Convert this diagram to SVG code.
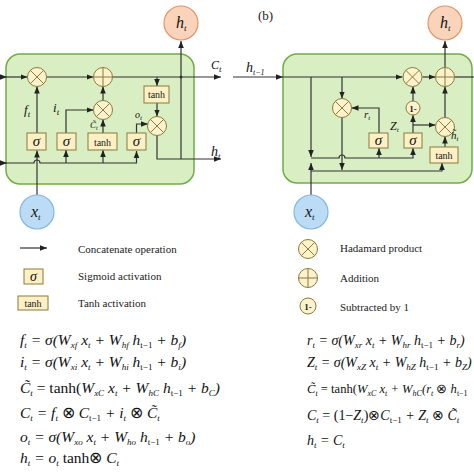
<svg xmlns="http://www.w3.org/2000/svg" xmlns:xlink="http://www.w3.org/1999/xlink" width="474" height="474" viewBox="0 0 474 474">
<style>
.box{fill:#d9efc3;stroke:#70ad47;stroke-width:1.5}
.op{fill:#fcf2cc;stroke:#8c7b3c;stroke-width:1}
.opl{stroke:#8c7b3c;stroke-width:1;fill:none}
.gate{fill:#fcf0c4;stroke:#8c7b3c;stroke-width:1}
.ln{stroke:#333;stroke-width:1.2;fill:none}
.m{font-family:"Liberation Serif",serif;font-style:italic;fill:#111}
.t{font-family:"Liberation Serif",serif;fill:#222}
.sb{font-size:9px}
.up{font-style:normal}
.ht{fill:#f9d4bb;stroke:#e0956a;stroke-width:1.2}
.xt{fill:#bcdcf6;stroke:#84b6e2;stroke-width:1.2}
</style>
<defs>
<marker id="a" viewBox="0 0 10 10" refX="10" refY="5" markerWidth="7" markerHeight="7" orient="auto" markerUnits="userSpaceOnUse"><path d="M0,1 L10,5 L0,9 z" fill="#222"/></marker>
<g id="mul"><circle r="9.5" class="op"/><path class="opl" d="M-6.7,-6.7 L6.7,6.7 M-6.7,6.7 L6.7,-6.7"/></g>
<g id="add"><circle r="9.5" class="op"/><path class="opl" d="M-9.5,0 H9.5 M0,-9.5 V9.5"/></g>
</defs>

<rect id="cellA" x="6" y="54" width="188" height="130" rx="14" class="box"/>
<rect id="cellB" x="283" y="54" width="189" height="129" rx="14" class="box"/>

<g id="connectors">
<path class="ln" d="M0,77 H7" marker-end="url(#a)"/>
<path class="ln" d="M7,77 H27.5" marker-end="url(#a)"/>
<path class="ln" d="M46.5,77 H93.5" marker-end="url(#a)"/>
<path class="ln" d="M112.5,77 H221" marker-end="url(#a)"/>
<circle cx="181" cy="77" r="1.5" fill="#333"/>
<path class="ln" d="M157,77 V86" marker-end="url(#a)"/>
<path class="ln" d="M157,103 V116.5" marker-end="url(#a)"/>
<path class="ln" d="M136.5,133 V124 H148" marker-end="url(#a)"/>
<path class="ln" d="M157,135.5 V159 H221" marker-end="url(#a)"/>
<path class="ln" d="M181,159 V41" marker-end="url(#a)"/>
<path class="ln" d="M37,133 V86.5" marker-end="url(#a)"/>
<path class="ln" d="M66,133 V110 H93.5" marker-end="url(#a)"/>
<path class="ln" d="M103,133 V119.5" marker-end="url(#a)"/>
<path class="ln" d="M103,100.5 V86.5" marker-end="url(#a)"/>
<path class="ln" d="M0,163 H7" marker-end="url(#a)"/>
<path class="ln" d="M7,163 H34 A3,3 0 0 1 40,163 H136.5 V151" marker-end="url(#a)"/>
<path class="ln" d="M66,163 V150" marker-end="url(#a)"/>
<path class="ln" d="M103,163 V150" marker-end="url(#a)"/>
<path class="ln" d="M37,195 V150.5" marker-end="url(#a)"/>
<path class="ln" d="M233,77 H283" marker-end="url(#a)"/>
<path class="ln" d="M283,77 H402.5" marker-end="url(#a)"/>
<path class="ln" d="M422.5,77 H435.5" marker-end="url(#a)"/>
<path class="ln" d="M454.5,77 H474"/>
<path class="ln" d="M445,67.5 V41" marker-end="url(#a)"/>
<path class="ln" d="M311,77 V157" marker-end="url(#a)"/>
<path class="ln" d="M311,158 H339 A3,3 0 0 1 345,158 H413 V148" marker-end="url(#a)"/>
<path class="ln" d="M379,158 V148" marker-end="url(#a)"/>
<path class="ln" d="M311,195 V163" marker-end="url(#a)"/>
<path class="ln" d="M311,171 H442 V163" marker-end="url(#a)"/>
<path class="ln" d="M342,77 V98.5" marker-end="url(#a)"/>
<path class="ln" d="M342,117.5 V170" marker-end="url(#a)"/>
<path class="ln" d="M379,133 V108 H351.5" marker-end="url(#a)"/>
<path class="ln" d="M413,133 V115" marker-end="url(#a)"/>
<path class="ln" d="M413,101 V86.5" marker-end="url(#a)"/>
<path class="ln" d="M413,125 H435.5" marker-end="url(#a)"/>
<path class="ln" d="M445,147 V136.5" marker-end="url(#a)"/>
<path class="ln" d="M445,117.5 V86.5" marker-end="url(#a)"/>
</g>

<g id="lstm-ht"><circle cx="181" cy="23" r="17" class="ht"/><text class="m" x="176" y="28" font-size="16">h<tspan class="sb" dy="3">t</tspan></text></g>
<g id="lstm-xt"><circle cx="37" cy="212" r="17" class="xt"/><text class="m" x="31" y="217" font-size="16">x<tspan class="sb" dy="3">t</tspan></text></g>
<g id="lstm-forget-mul"><use xlink:href="#mul" x="37" y="77"/></g>
<g id="lstm-add"><use xlink:href="#add" x="103" y="77"/></g>
<g id="lstm-input-mul"><use xlink:href="#mul" x="103" y="110"/></g>
<g id="lstm-out-mul"><use xlink:href="#mul" x="157" y="126"/></g>
<g id="lstm-tanh-c"><rect x="144" y="86" width="25" height="17" class="gate"/><text class="t" x="156.5" y="98" font-size="10" text-anchor="middle">tanh</text></g>
<g id="lstm-sig-f"><rect x="27" y="133" width="19" height="17" class="gate"/><text class="m" x="36.5" y="146" font-size="15" text-anchor="middle">σ</text></g>
<g id="lstm-sig-i"><rect x="57" y="133" width="19" height="17" class="gate"/><text class="m" x="66.5" y="146" font-size="15" text-anchor="middle">σ</text></g>
<g id="lstm-tanh-g"><rect x="88" y="133" width="29" height="17" class="gate"/><text class="t" x="102.5" y="145.5" font-size="10" text-anchor="middle">tanh</text></g>
<g id="lstm-sig-o"><rect x="127" y="133" width="19" height="17" class="gate"/><text class="m" x="136.5" y="146" font-size="15" text-anchor="middle">σ</text></g>
<g id="lstm-labels">
<text class="m" x="24" y="114" font-size="13">f<tspan class="sb" dy="3">t</tspan></text>
<text class="m" x="53" y="112" font-size="13">i<tspan class="sb" dy="3">t</tspan></text>
<text class="m" x="90" y="128" font-size="9">C̃<tspan font-size="6" dy="2">t</tspan></text>
<text class="m" x="135" y="118" font-size="10">o<tspan font-size="7" dy="2">t</tspan></text>
<text class="m" x="211" y="69" font-size="12">C<tspan class="sb" dy="3">t</tspan></text>
<text class="m" x="211" y="156" font-size="14">h<tspan class="sb" dy="3">t</tspan></text>
</g>

<text class="t" x="258" y="20" font-size="13">(b)</text>
<g id="gru-ht"><circle cx="445" cy="23" r="17" class="ht"/><text class="m" x="440" y="28" font-size="16">h<tspan class="sb" dy="3">t</tspan></text></g>
<g id="gru-xt"><circle cx="311" cy="212" r="17" class="xt"/><text class="m" x="305" y="217" font-size="16">x<tspan class="sb" dy="3">t</tspan></text></g>
<g id="gru-top-mul"><use xlink:href="#mul" x="412.5" y="77"/></g>
<g id="gru-add"><use xlink:href="#add" x="445" y="77"/></g>
<g id="gru-reset-mul"><use xlink:href="#mul" x="342" y="108"/></g>
<g id="gru-upd-mul"><use xlink:href="#mul" x="445" y="127"/></g>
<g id="gru-one-minus"><circle cx="413" cy="108" r="7" class="op"/><text class="t" x="413" y="111.5" font-size="9" text-anchor="middle" font-weight="bold">1-</text></g>
<g id="gru-sig-r"><rect x="369" y="133" width="19" height="15" class="gate"/><text class="m" x="378.5" y="145" font-size="15" text-anchor="middle">σ</text></g>
<g id="gru-sig-z"><rect x="404" y="133" width="18" height="15" class="gate"/><text class="m" x="413" y="145" font-size="15" text-anchor="middle">σ</text></g>
<g id="gru-tanh"><rect x="430" y="147" width="28" height="16" class="gate"/><text class="t" x="444" y="159" font-size="10" text-anchor="middle">tanh</text></g>
<g id="gru-labels">
<text class="m" x="246" y="72" font-size="14">h<tspan font-size="8" dy="3">t−1</tspan></text>
<text class="m" x="364" y="118" font-size="11">r<tspan font-size="7" dy="2">t</tspan></text>
<text class="m" x="390" y="130" font-size="12">Z<tspan font-size="7" dy="2">t</tspan></text>
<text class="m" x="451" y="139" font-size="11">h̃<tspan font-size="7" dy="2">t</tspan></text>
</g>

<g id="legend">
<path class="ln" d="M20,248 H47" marker-end="url(#a)"/>
<text class="t" x="78" y="253" font-size="11">Concatenate operation</text>
<rect x="24" y="269" width="19" height="15" class="gate"/><text class="m" x="33.5" y="281" font-size="14" text-anchor="middle">σ</text>
<text class="t" x="78" y="280" font-size="11">Sigmoid activation</text>
<rect x="18" y="296" width="30" height="14" class="gate"/><text class="t" x="33" y="307" font-size="10" text-anchor="middle">tanh</text>
<text class="t" x="78" y="307" font-size="11">Tanh activation</text>
<use xlink:href="#mul" x="308" y="249"/>
<text class="t" x="340" y="252" font-size="11">Hadamard product</text>
<use xlink:href="#add" x="308" y="278"/>
<text class="t" x="340" y="282" font-size="11">Addition</text>
<circle cx="308" cy="306" r="8" class="op"/><text class="t" x="308" y="309.5" font-size="9" text-anchor="middle" font-weight="bold">1-</text>
<text class="t" x="340" y="311" font-size="11">Subtracted by 1</text>
</g>

<g id="eq-lstm" class="m" font-size="15.5">
<text x="20" y="345">f<tspan class="sb" dy="3">t</tspan><tspan dy="-3"> = σ(W</tspan><tspan class="sb" dy="3">xf</tspan><tspan dy="-3"> x</tspan><tspan class="sb" dy="3">t</tspan><tspan dy="-3"> + W</tspan><tspan class="sb" dy="3">hf</tspan><tspan dy="-3"> h</tspan><tspan class="sb up" dy="3">t−1</tspan><tspan dy="-3"> + b</tspan><tspan class="sb" dy="3">f</tspan><tspan dy="-3">)</tspan></text>
<text x="20" y="367">i<tspan class="sb" dy="3">t</tspan><tspan dy="-3"> = σ(W</tspan><tspan class="sb" dy="3">xi</tspan><tspan dy="-3"> x</tspan><tspan class="sb" dy="3">t</tspan><tspan dy="-3"> + W</tspan><tspan class="sb" dy="3">hi</tspan><tspan dy="-3"> h</tspan><tspan class="sb up" dy="3">t−1</tspan><tspan dy="-3"> + b</tspan><tspan class="sb" dy="3">i</tspan><tspan dy="-3">)</tspan></text>
<text x="20" y="393">C̃<tspan class="sb" dy="3">t</tspan><tspan dy="-3" class="up"> = tanh(</tspan><tspan>W</tspan><tspan class="sb" dy="3">xC</tspan><tspan dy="-3"> x</tspan><tspan class="sb" dy="3">t</tspan><tspan dy="-3"> + W</tspan><tspan class="sb" dy="3">hC</tspan><tspan dy="-3"> h</tspan><tspan class="sb up" dy="3">t−1</tspan><tspan dy="-3"> + b</tspan><tspan class="sb" dy="3">C</tspan><tspan dy="-3">)</tspan></text>
<text x="20" y="418">C<tspan class="sb" dy="3">t</tspan><tspan dy="-3"> = f</tspan><tspan class="sb" dy="3">t</tspan><tspan dy="-3" class="up"> ⊗ </tspan><tspan>C</tspan><tspan class="sb up" dy="3">t−1</tspan><tspan dy="-3"> + i</tspan><tspan class="sb" dy="3">t</tspan><tspan dy="-3" class="up"> ⊗ </tspan><tspan>C̃</tspan><tspan class="sb" dy="3">t</tspan></text>
<text x="20" y="442">o<tspan class="sb" dy="3">t</tspan><tspan dy="-3"> = σ(W</tspan><tspan class="sb" dy="3">xo</tspan><tspan dy="-3"> x</tspan><tspan class="sb" dy="3">t</tspan><tspan dy="-3"> + W</tspan><tspan class="sb" dy="3">ho</tspan><tspan dy="-3"> h</tspan><tspan class="sb up" dy="3">t−1</tspan><tspan dy="-3"> + b</tspan><tspan class="sb" dy="3">o</tspan><tspan dy="-3">)</tspan></text>
<text x="20" y="463">h<tspan class="sb" dy="3">t</tspan><tspan dy="-3"> = o</tspan><tspan class="sb" dy="3">t</tspan><tspan dy="-3" class="up"> tanh⊗ </tspan><tspan>C</tspan><tspan class="sb" dy="3">t</tspan></text>
</g>
<g id="eq-gru" class="m" font-size="14">
<text x="307" y="345">r<tspan class="sb" dy="3">t</tspan><tspan dy="-3"> = σ(W</tspan><tspan class="sb" dy="3">xr</tspan><tspan dy="-3"> x</tspan><tspan class="sb" dy="3">t</tspan><tspan dy="-3"> + W</tspan><tspan class="sb" dy="3">hr</tspan><tspan dy="-3"> h</tspan><tspan class="sb up" dy="3">t−1</tspan><tspan dy="-3"> + b</tspan><tspan class="sb" dy="3">r</tspan><tspan dy="-3">)</tspan></text>
<text x="307" y="367">Z<tspan class="sb" dy="3">t</tspan><tspan dy="-3"> = σ(W</tspan><tspan class="sb" dy="3">xZ</tspan><tspan dy="-3"> x</tspan><tspan class="sb" dy="3">t</tspan><tspan dy="-3"> + W</tspan><tspan class="sb" dy="3">hZ</tspan><tspan dy="-3"> h</tspan><tspan class="sb up" dy="3">t−1</tspan><tspan dy="-3"> + b</tspan><tspan class="sb" dy="3">Z</tspan><tspan dy="-3">)</tspan></text>
<text x="307" y="393" font-size="12.6">C̃<tspan font-size="8" dy="3">t</tspan><tspan dy="-3" class="up"> = tanh(</tspan><tspan>W</tspan><tspan font-size="8" dy="3">xC</tspan><tspan dy="-3"> x</tspan><tspan font-size="8" dy="3">t</tspan><tspan dy="-3"> + W</tspan><tspan font-size="8" dy="3">hC</tspan><tspan dy="-3">(r</tspan><tspan font-size="8" dy="3">t</tspan><tspan dy="-3" class="up"> ⊗ </tspan><tspan>h</tspan><tspan font-size="8" class="up" dy="3">t−1</tspan></text>
<text x="307" y="420">C<tspan class="sb" dy="3">t</tspan><tspan dy="-3" class="up"> = (1−</tspan><tspan>Z</tspan><tspan class="sb" dy="3">t</tspan><tspan dy="-3" class="up">)⊗</tspan><tspan>C</tspan><tspan class="sb up" dy="3">t−1</tspan><tspan dy="-3"> + Z</tspan><tspan class="sb" dy="3">t</tspan><tspan dy="-3" class="up"> ⊗ </tspan><tspan>C̃</tspan><tspan class="sb" dy="3">t</tspan></text>
<text x="307" y="445">h<tspan class="sb" dy="3">t</tspan><tspan dy="-3"> = C</tspan><tspan class="sb" dy="3">t</tspan></text>
</g>
</svg>
